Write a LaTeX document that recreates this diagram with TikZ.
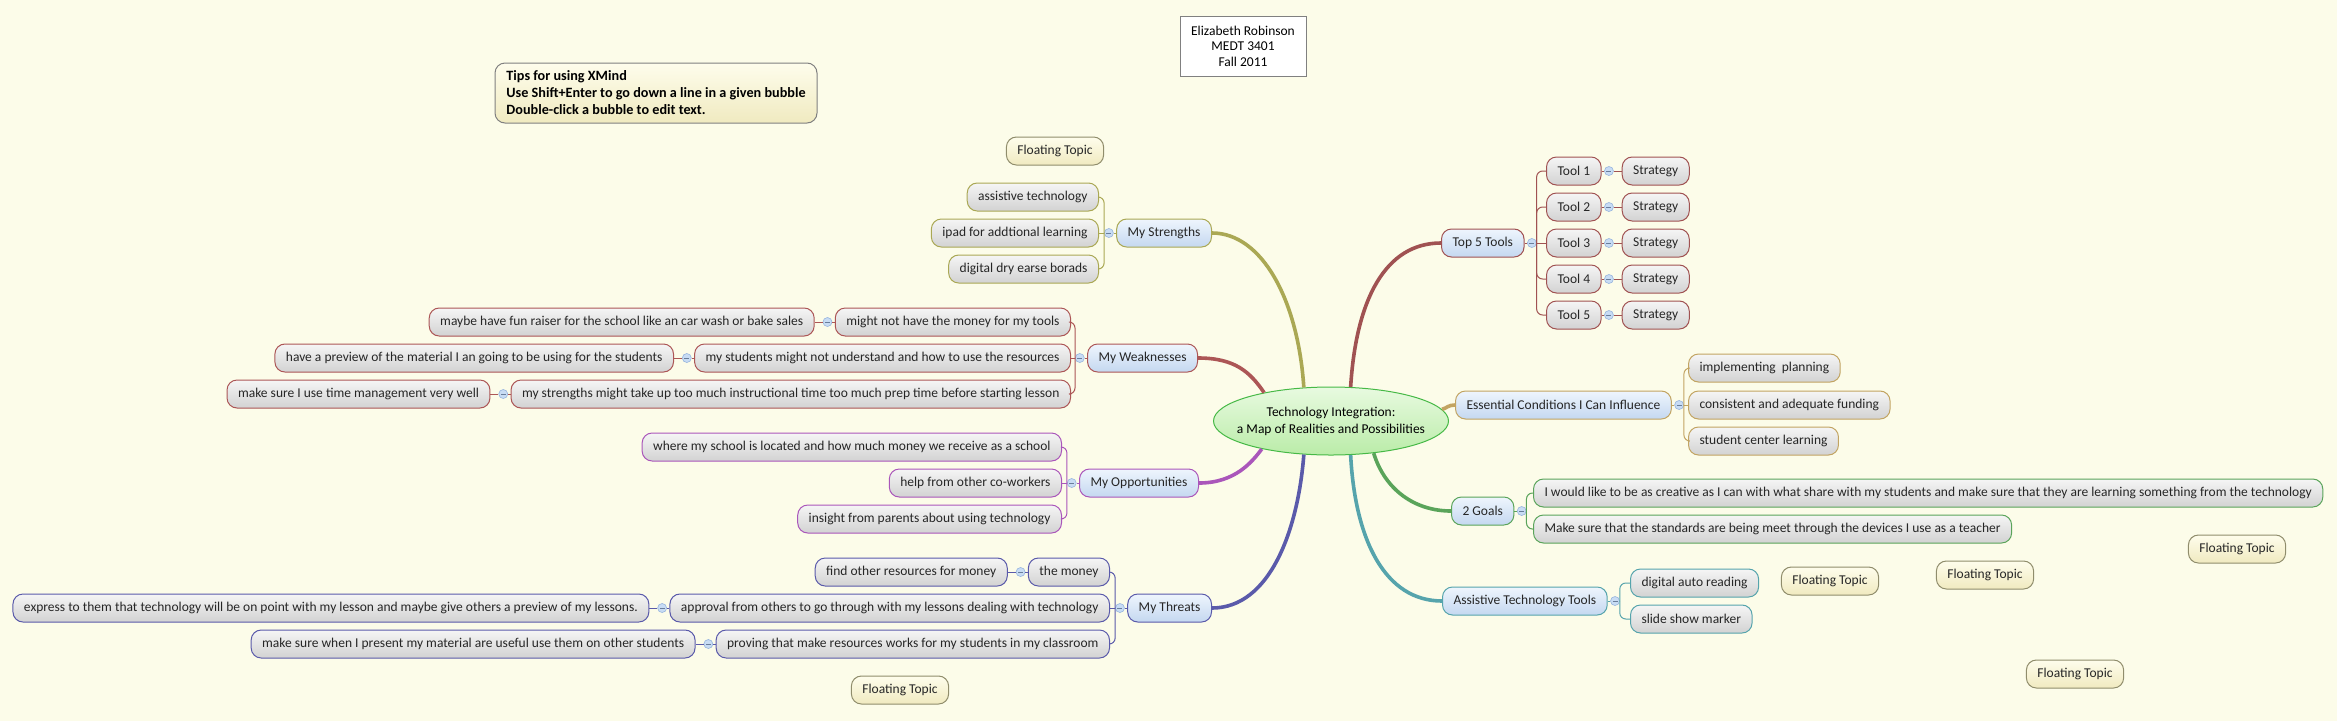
\documentclass[tikz,border=0pt]{standalone}
\usepackage{fontspec}
\setmainfont{Carlito}
\usetikzlibrary{positioning,shapes.geometric}

\definecolor{bgcol}{RGB}{252,252,233}
\definecolor{strcol}{RGB}{170,168,84}
\definecolor{weakcol}{RGB}{172,86,86}
\definecolor{oppcol}{RGB}{170,86,186}
\definecolor{thrcol}{RGB}{90,90,170}
\definecolor{toolcol}{RGB}{160,82,82}
\definecolor{esscol}{RGB}{194,164,98}
\definecolor{goalcol}{RGB}{90,164,90}
\definecolor{asscol}{RGB}{86,164,172}
\definecolor{bluetop}{RGB}{238,245,253}
\definecolor{bluebot}{RGB}{196,216,240}
\definecolor{graytop}{RGB}{245,245,245}
\definecolor{graybot}{RGB}{210,210,210}
\definecolor{yeltop}{RGB}{254,253,236}
\definecolor{yelbot}{RGB}{240,234,192}
\definecolor{greentop}{RGB}{232,250,224}
\definecolor{greenbot}{RGB}{186,236,168}
\definecolor{togfill}{RGB}{200,220,244}
\definecolor{togline}{RGB}{150,180,222}

\tikzset{
  mapbox/.style={rectangle, rounded corners=10pt, minimum height=28pt,
    inner xsep=11pt, inner ysep=2pt, text=black!85, line width=1pt},
  topic/.style={mapbox, top color=bluetop, bottom color=bluebot, draw=#1},
  subtopic/.style={mapbox, top color=graytop, bottom color=graybot, draw=#1},
  floatbox/.style={mapbox, top color=yeltop, bottom color=yelbot, draw=gray!75!olive},
  toggle/.style={circle, minimum size=9pt, inner sep=0pt, fill=togfill,
    draw=togline, line width=0.6pt,
    path picture={\draw[togline!70!black, line width=0.7pt]
      ([xshift=-2.5pt]path picture bounding box.center) --
      ([xshift=2.5pt]path picture bounding box.center);}},
  mainbr/.style={draw=#1, line width=3.6pt, line cap=butt},
  link/.style={draw=#1, line width=1pt, rounded corners=6pt},
}

\begin{document}
\begin{tikzpicture}[x=1pt, y=-1pt, every node/.style={font=\fontsize{13.5}{17}\selectfont}]
  \path[use as bounding box, fill=bgcol] (0,0) rectangle (2337,721);

  % header and tips
  \node[draw=gray, fill=white, line width=1pt, align=center, minimum width=126pt,
    minimum height=60pt, inner sep=0pt, font=\fontsize{13.5}{15.5}\selectfont]
    (author) at (1243,46) {Elizabeth Robinson\\MEDT 3401\\Fall 2011};
  \node[draw=gray, rounded corners=10pt, top color=yeltop, bottom color=yelbot,
    line width=1pt, align=left, minimum width=322pt, minimum height=60pt,
    font=\bfseries\fontsize{14.2}{17}\selectfont]
    (tips) at (656,93) {Tips for using XMind\\Use Shift+Enter to go down a line in a given bubble\\Double-click a bubble to edit text.};

  % central topic
  \node[ellipse, minimum width=235pt, minimum height=68pt, inner xsep=-14pt,
    inner ysep=0pt, top color=greentop, bottom color=greenbot,
    draw=green!45!gray, line width=1pt, align=center] (core) at (1331,421)
    {Technology Integration:\\a Map of Realities and Possibilities};

  % main topics
  \node[topic=strcol, anchor=east] (ms) at (1212,233) {My Strengths};
  \node[topic=weakcol, anchor=east] (mw) at (1198,358) {My Weaknesses};
  \node[topic=oppcol, anchor=east] (mo) at (1199,483) {My Opportunities};
  \node[topic=thrcol, anchor=east] (mt) at (1212,608) {My Threats};
  \node[topic=toolcol, anchor=west] (t5) at (1441,243) {Top 5 Tools};
  \node[topic=esscol, anchor=west] (ec) at (1455,405) {Essential Conditions I Can Influence};
  \node[topic=goalcol, anchor=west] (g2) at (1451,511) {2 Goals};
  \node[topic=asscol, anchor=west] (at) at (1442,601) {Assistive Technology Tools};

  % branches from the centre
  \draw[mainbr=strcol] (core.129) .. controls (1298,300) and (1262,233) .. (ms.east);
  \draw[mainbr=toolcol] (core.60) .. controls (1356,300) and (1385,243) .. (t5.west);
  \draw[mainbr=weakcol] (core.157) .. controls (1250,372) and (1235,358) .. (mw.east);
  \draw[mainbr=esscol] (core.6) .. controls (1447,408) and (1448,405) .. (ec.west);
  \draw[mainbr=oppcol] (core.202) .. controls (1252,462) and (1235,483) .. (mo.east);
  \draw[mainbr=thrcol] (core.231) .. controls (1298,530) and (1270,608) .. (mt.east);
  \draw[mainbr=asscol] (core.300) .. controls (1355,540) and (1385,601) .. (at.west);
  \draw[mainbr=goalcol] (core.323) .. controls (1385,490) and (1415,511) .. (g2.west);

  % my strengths
  \node[toggle, left=2.5pt of ms] (ms-t) {};
  \node[subtopic=strcol, anchor=east] (s1) at (1099,197) {assistive technology};
  \node[subtopic=strcol, anchor=east] (s2) at (1099,233) {ipad for addtional learning};
  \node[subtopic=strcol, anchor=east] (s3) at (1099,269) {digital dry earse borads};
  \draw[link=strcol] (ms.west) -- (ms-t.east);
  \draw[link=strcol] (ms-t.west) |- (s1.east);
  \draw[link=strcol] (ms-t.west) -- (s2.east);
  \draw[link=strcol] (ms-t.west) |- (s3.east);

  % my weaknesses
  \node[toggle, left=2.5pt of mw] (mw-t) {};
  \node[subtopic=weakcol, anchor=east] (w1) at (1071,322) {might not have the money for my tools};
  \node[subtopic=weakcol, anchor=east] (w2) at (1071,358) {my students might not understand and how to use the resources};
  \node[subtopic=weakcol, anchor=east] (w3) at (1071,394) {my strengths might take up too much instructional time too much prep time before starting lesson};
  \draw[link=weakcol] (mw.west) -- (mw-t.east);
  \draw[link=weakcol] (mw-t.west) |- (w1.east);
  \draw[link=weakcol] (mw-t.west) -- (w2.east);
  \draw[link=weakcol] (mw-t.west) |- (w3.east);
  \node[toggle, left=2.5pt of w1] (w1-t) {};
  \node[toggle, left=2.5pt of w2] (w2-t) {};
  \node[toggle, left=2.5pt of w3] (w3-t) {};
  \node[subtopic=weakcol, left=8pt of w1-t] (w1a) {maybe have fun raiser for the school like an car wash or bake sales};
  \node[subtopic=weakcol, left=8pt of w2-t] (w2a) {have a preview of the material I an going to be using for the students};
  \node[subtopic=weakcol, left=8pt of w3-t] (w3a) {make sure I use time management very well};
  \draw[link=weakcol] (w1.west) -- (w1-t.east) (w1-t.west) -- (w1a.east);
  \draw[link=weakcol] (w2.west) -- (w2-t.east) (w2-t.west) -- (w2a.east);
  \draw[link=weakcol] (w3.west) -- (w3-t.east) (w3-t.west) -- (w3a.east);

  % my opportunities
  \node[toggle, left=2.5pt of mo] (mo-t) {};
  \node[subtopic=oppcol, anchor=east] (o1) at (1062,447) {where my school is located and how much money we receive as a school};
  \node[subtopic=oppcol, anchor=east] (o2) at (1062,483) {help from other co-workers};
  \node[subtopic=oppcol, anchor=east] (o3) at (1062,519) {insight from parents about using technology};
  \draw[link=oppcol] (mo.west) -- (mo-t.east);
  \draw[link=oppcol] (mo-t.west) |- (o1.east);
  \draw[link=oppcol] (mo-t.west) -- (o2.east);
  \draw[link=oppcol] (mo-t.west) |- (o3.east);

  % my threats
  \node[toggle, left=2.5pt of mt] (mt-t) {};
  \node[subtopic=thrcol, anchor=east] (h1) at (1110,572) {the money};
  \node[subtopic=thrcol, anchor=east] (h2) at (1110,608) {approval from others to go through with my lessons dealing with technology};
  \node[subtopic=thrcol, anchor=east] (h3) at (1110,644) {proving that make resources works for my students in my classroom};
  \draw[link=thrcol] (mt.west) -- (mt-t.east);
  \draw[link=thrcol] (mt-t.west) |- (h1.east);
  \draw[link=thrcol] (mt-t.west) -- (h2.east);
  \draw[link=thrcol] (mt-t.west) |- (h3.east);
  \node[toggle, left=2.5pt of h1] (h1-t) {};
  \node[toggle, left=2.5pt of h2] (h2-t) {};
  \node[toggle, left=2.5pt of h3] (h3-t) {};
  \node[subtopic=thrcol, left=8pt of h1-t] (h1a) {find other resources for money};
  \node[subtopic=thrcol, left=8pt of h2-t] (h2a) {express to them that technology will be on point with my lesson and maybe give others a preview of my lessons.};
  \node[subtopic=thrcol, left=8pt of h3-t] (h3a) {make sure when I present my material are useful use them on other students};
  \draw[link=thrcol] (h1.west) -- (h1-t.east) (h1-t.west) -- (h1a.east);
  \draw[link=thrcol] (h2.west) -- (h2-t.east) (h2-t.west) -- (h2a.east);
  \draw[link=thrcol] (h3.west) -- (h3-t.east) (h3-t.west) -- (h3a.east);

  % top 5 tools
  \node[toggle, right=2.5pt of t5] (t5-t) {};
  \node[subtopic=toolcol, anchor=west] (tl1) at (1546,171) {Tool 1};
  \node[subtopic=toolcol, anchor=west] (tl2) at (1546,207) {Tool 2};
  \node[subtopic=toolcol, anchor=west] (tl3) at (1546,243) {Tool 3};
  \node[subtopic=toolcol, anchor=west] (tl4) at (1546,279) {Tool 4};
  \node[subtopic=toolcol, anchor=west] (tl5) at (1546,315) {Tool 5};
  \draw[link=toolcol] (t5.east) -- (t5-t.west);
  \draw[link=toolcol] (t5-t.east) |- (tl1.west);
  \draw[link=toolcol] (t5-t.east) |- (tl2.west);
  \draw[link=toolcol] (t5-t.east) -- (tl3.west);
  \draw[link=toolcol] (t5-t.east) |- (tl4.west);
  \draw[link=toolcol] (t5-t.east) |- (tl5.west);
  \node[toggle, right=2.5pt of tl1] (tl1-t) {};
  \node[toggle, right=2.5pt of tl2] (tl2-t) {};
  \node[toggle, right=2.5pt of tl3] (tl3-t) {};
  \node[toggle, right=2.5pt of tl4] (tl4-t) {};
  \node[toggle, right=2.5pt of tl5] (tl5-t) {};
  \node[subtopic=toolcol, right=8pt of tl1-t] (sg1) {Strategy};
  \node[subtopic=toolcol, right=8pt of tl2-t] (sg2) {Strategy};
  \node[subtopic=toolcol, right=8pt of tl3-t] (sg3) {Strategy};
  \node[subtopic=toolcol, right=8pt of tl4-t] (sg4) {Strategy};
  \node[subtopic=toolcol, right=8pt of tl5-t] (sg5) {Strategy};
  \draw[link=toolcol] (tl1.east) -- (tl1-t.west) (tl1-t.east) -- (sg1.west);
  \draw[link=toolcol] (tl2.east) -- (tl2-t.west) (tl2-t.east) -- (sg2.west);
  \draw[link=toolcol] (tl3.east) -- (tl3-t.west) (tl3-t.east) -- (sg3.west);
  \draw[link=toolcol] (tl4.east) -- (tl4-t.west) (tl4-t.east) -- (sg4.west);
  \draw[link=toolcol] (tl5.east) -- (tl5-t.west) (tl5-t.east) -- (sg5.west);

  % essential conditions
  \node[toggle, right=2.5pt of ec] (ec-t) {};
  \node[subtopic=esscol, anchor=west] (e1) at (1688,368) {implementing\ \ planning};
  \node[subtopic=esscol, anchor=west] (e2) at (1688,405) {consistent and adequate funding};
  \node[subtopic=esscol, anchor=west] (e3) at (1688,441) {student center learning};
  \draw[link=esscol] (ec.east) -- (ec-t.west);
  \draw[link=esscol] (ec-t.east) |- (e1.west);
  \draw[link=esscol] (ec-t.east) -- (e2.west);
  \draw[link=esscol] (ec-t.east) |- (e3.west);

  % goals
  \node[toggle, right=2.5pt of g2] (g2-t) {};
  \node[subtopic=goalcol, anchor=west] (gl1) at (1533,493) {I would like to be as creative as I can with what share with my students and make sure that they are learning something from the technology};
  \node[subtopic=goalcol, anchor=west] (gl2) at (1533,529) {Make sure that the standards are being meet through the devices I use as a teacher};
  \draw[link=goalcol] (g2.east) -- (g2-t.west);
  \draw[link=goalcol] (g2-t.east) |- (gl1.west);
  \draw[link=goalcol] (g2-t.east) |- (gl2.west);

  % assistive technology tools
  \node[toggle, right=2.5pt of at] (at-t) {};
  \node[subtopic=asscol, anchor=west] (a1) at (1630,583) {digital auto reading};
  \node[subtopic=asscol, anchor=west] (a2) at (1630,619) {slide show marker};
  \draw[link=asscol] (at.east) -- (at-t.west);
  \draw[link=asscol] (at-t.east) |- (a1.west);
  \draw[link=asscol] (at-t.east) |- (a2.west);

  % floating topics
  \node[floatbox] (ft1) at (1055,151) {Floating Topic};
  \node[floatbox] (ft2) at (1830,581) {Floating Topic};
  \node[floatbox] (ft3) at (1985,575) {Floating Topic};
  \node[floatbox] (ft4) at (2237,549) {Floating Topic};
  \node[floatbox] (ft5) at (2075,674) {Floating Topic};
  \node[floatbox] (ft6) at (900,690) {Floating Topic};
\end{tikzpicture}
\end{document}
